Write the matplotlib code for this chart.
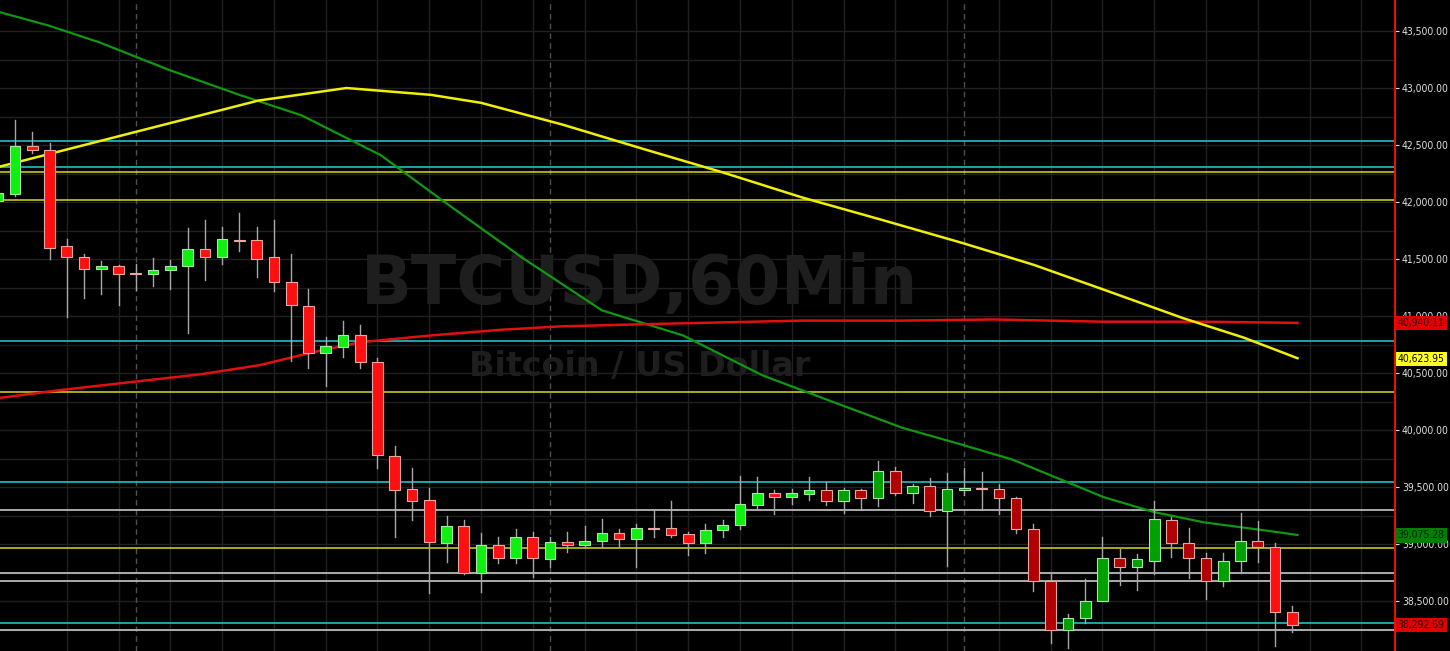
import numpy as np
import matplotlib.pyplot as plt
from matplotlib.patches import Rectangle

# hourly candles (open, close, high, low)
opens  = [42010,42070,42490,42460,41610,41520,41410,41440,41380,41370,41400,41440,41590,41520,41670,41670,
          41520,41300,41090,40680,40730,40830,40600,39770,39480,39390,39010,39160,38750,38990,38880,39060,
          38870,39020,38990,39030,39100,39040,39140,39140,39090,39010,39120,39170,39340,39450,39410,39440,
          39470,39380,39470,39400,39640,39450,39510,39290,39470,39490,39480,39400,39130,38680,38250,38350,
          38500,38880,38800,38850,39210,39010,38880,38680,38850,39030,38970,38400]
closes = [42080,42490,42460,41600,41520,41410,41440,41370,41370,41400,41440,41590,41520,41680,41660,41500,
          41300,41100,40680,40740,40830,40600,39780,39470,39380,39020,39160,38750,38990,38880,39060,38880,
          39020,38990,39030,39100,39040,39140,39130,39080,39010,39120,39170,39350,39450,39410,39450,39470,
          39380,39470,39400,39640,39450,39510,39290,39480,39490,39480,39400,39130,38680,38250,38350,38500,
          38880,38800,38870,39220,39010,38880,38680,38850,39030,38970,38400,38290]
highs  = [42090,42720,42610,42520,41680,41540,41480,41450,41460,41510,41490,41770,41840,41780,41900,41780,
          41840,41540,41240,40820,40960,40920,40630,39860,39670,39490,39250,39210,39100,39060,39130,39110,
          39060,39110,39160,39220,39130,39180,39290,39380,39110,39180,39210,39600,39590,39470,39480,39590,
          39540,39490,39480,39730,39680,39530,39580,39620,39670,39630,39530,39410,39180,38740,38390,38690,
          39060,38960,38910,39380,39240,39140,38920,38920,39270,39200,39010,38460]
lows   = [42000,42050,42430,41500,40990,41160,41190,41100,41230,41260,41240,40850,41320,41460,41570,41340,
          41220,40610,40540,40390,40640,40540,39670,39060,39210,38570,38840,38740,38580,38830,38830,38710,
          38800,38930,38970,38970,38970,38800,39060,39060,38900,38920,39060,39130,39310,39260,39350,39390,
          39340,39270,39320,39330,39430,39360,39250,38810,39430,39320,39260,39100,38590,38130,38090,38310,
          38500,38640,38600,38740,38890,38700,38520,38630,38750,38840,38110,38230]

# moving averages (candle index, price)
ma_yellow_x = [0.1,15.1,20.2,25.1,28,32.7,37.3,42,46.6,51.3,55.9,60,64.1,68.7,72.2,75.3]
ma_yellow_y = [42310,42890,43000,42940,42870,42680,42470,42260,42040,41840,41640,41450,41230,40980,40810,40630]
ma_green_x = [0,2.9,5.9,9.9,14,17.6,22.2,25.7,30.4,35,39.7,44.3,47.8,52.4,55.9,58.8,61.2,64.1,67,69.9,73.4,75.3]
ma_green_y = [43670,43550,43400,43160,42940,42760,42410,42020,41510,41050,40830,40480,40280,40020,39870,39740,
              39590,39410,39280,39190,39120,39080]
ma_red_x = [0,3.6,7.1,11.8,15.2,18.2,21,25.1,29.2,32.7,37.9,46.6,52.4,57.7,64.1,69.9,75.3]
ma_red_y = [40280,40350,40410,40490,40570,40680,40770,40830,40880,40910,40930,40960,40960,40970,40950,40950,40940]

cyan_levels = [42535, 42310, 40780, 39540, 38310]
yellow_levels = [42265, 42020, 40330, 38965]
white_levels = [39300, 38745, 38675, 38245]

tags = [(40940.11, '#e00000', '#300000'), (40623.95, '#ffff20', 'black'),
        (39075.28, '#008000', '#002000'), (38292.69, '#e00000', '#300000')]

fig = plt.figure(figsize=(14.5, 6.51), dpi=100, facecolor='black')
ax = fig.add_axes([0, 0, 1395/1450, 1])
ax.set_facecolor('black')
ax.set_xlim(0.13, 80.95)
ax.set_ylim(38062, 43772)

for p in np.arange(38250, 43750, 250):
    ax.axhline(p, color='#202020', lw=1, zorder=0)
for i in np.arange(4, 81, 3):
    ax.axvline(i, color='#202020', lw=1, zorder=0)
for i in [8, 32, 56]:
    ax.axvline(i, color='#505050', lw=1, ls=(0, (4, 3)), zorder=0)

ax.text(37.2, 41272, 'BTCUSD,60Min', color='#1e1e1e', fontsize=48, fontweight='bold',
        ha='center', va='center', zorder=1)
ax.text(37.2, 40553, 'Bitcoin / US Dollar', color='#1e1e1e', fontsize=24, fontweight='bold',
        ha='center', va='center', zorder=1)

for lv in cyan_levels:
    ax.axhline(lv, color='#20b0b8', lw=1.3, zorder=2)
for lv in yellow_levels:
    ax.axhline(lv, color='#d8d820', lw=1.1, zorder=2)
for lv in white_levels:
    ax.axhline(lv, color='#b8b8b8', lw=1.3, zorder=2)

ax.plot(ma_green_x, ma_green_y, color='#109810', lw=1.6, zorder=3)
ax.plot(ma_red_x, ma_red_y, color='#e01010', lw=1.8, zorder=3)
ax.plot(ma_yellow_x, ma_yellow_y, color='#f0f000', lw=1.8, zorder=3)

w = 0.62
for i, (o, c, h, l) in enumerate(zip(opens, closes, highs, lows)):
    up = c >= o
    if 48 <= i <= 73:
        fc = '#00a000' if up else '#b00000'
    else:
        fc = '#10f010' if up else '#ff1010'
    ax.plot([i, i], [l, h], color='#a8a8a8', lw=1, zorder=4)
    lo, hi = min(o, c), max(o, c)
    ax.add_patch(Rectangle((i - w/2, lo), w, max(hi - lo, 6), facecolor=fc,
                           edgecolor='#e8a8a8' if not up else '#a8e8a8', lw=0.8, zorder=5))

for s in ax.spines.values():
    s.set_visible(False)
ax.set_xticks([])
ax.yaxis.tick_right()
ticks = np.arange(38500, 43501, 500)
ax.set_yticks(ticks)
ax.set_yticklabels([f'{t:,.2f}' for t in ticks], color='#e0e0e0', fontsize=7.5,
                   family='DejaVu Sans', stretch='condensed')
ax.tick_params(axis='y', length=3, color='#e0e0e0', pad=2)
ax.axvline(80.95, color='#e01010', lw=1.5, clip_on=False)

for val, fc, tc in tags:
    ax.annotate(f'{val:,.2f}', xy=(1, val), xycoords=('axes fraction', 'data'),
                xytext=(2, 0), textcoords='offset points', ha='left', va='center',
                fontsize=7.5, color=tc, family='DejaVu Sans', stretch='condensed', zorder=10,
                bbox=dict(boxstyle='square,pad=0.2', fc=fc, ec='none'), annotation_clip=False)

fig.savefig('out.png', dpi=100, facecolor='black')
